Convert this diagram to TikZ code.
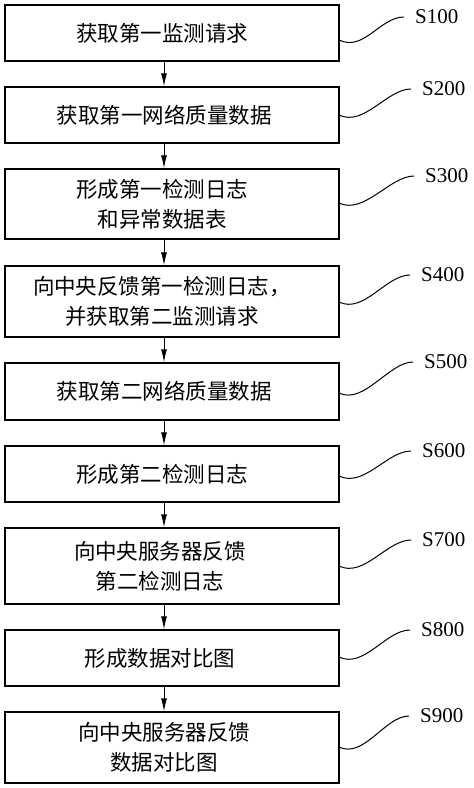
\documentclass[tikz,border=0pt]{standalone}
\usepackage{fontspec}
\setmainfont{Liberation Serif}
\newfontfamily\cjk{Noto Sans CJK SC}
\usetikzlibrary{arrows.meta}
\begin{document}
\begin{tikzpicture}[x=1pt,y=-1pt,
  box/.style={draw, line width=1.3pt, minimum width=334pt, inner sep=0pt},
  txt/.style={font=\cjk\fontsize{21.5}{30}\selectfont, align=center, inner sep=0pt},
  slabel/.style={font=\fontsize{21}{24}\selectfont, anchor=west, inner sep=0pt},
  flow/.style={line width=1pt, -{Latex[length=13pt,width=6pt]}},
  lead/.style={line width=1pt}]
\useasboundingbox (0,0) rectangle (474,788);
% boxes
\node[box, minimum height=56pt] (b1) at (172,33) {};
\node[box, minimum height=56pt] (b2) at (172,115) {};
\node[box, minimum height=70pt] (b3) at (172,204) {};
\node[box, minimum height=71pt] (b4) at (172,301.5) {};
\node[box, minimum height=57pt] (b5) at (172,391.5) {};
\node[box, minimum height=56pt] (b6) at (172,474) {};
\node[box, minimum height=76pt] (b7) at (172,566) {};
\node[box, minimum height=56pt] (b8) at (172,658) {};
\node[box, minimum height=71pt] (b9) at (172,747.5) {};
% texts
\node[txt] (t1) at ([xshift=-10pt]b1.center) {获取第一监测请求};
\node[txt] (t2) at ([xshift=-8pt]b2.center) {获取第一网络质量数据};
\node[txt] (t3) at ([xshift=-10pt]b3.center) {形成第一检测日志\\和异常数据表};
\node[txt] (t4) at ([xshift=-10pt]b4.center) {向中央反馈第一检测日志，\\并获取第二监测请求};
\node[txt] (t5) at ([xshift=-8pt]b5.center) {获取第二网络质量数据};
\node[txt] (t6) at ([xshift=-10pt]b6.center) {形成第二检测日志};
\node[txt] (t7) at ([xshift=-12pt]b7.center) {向中央服务器反馈\\第二检测日志};
\node[txt] (t8) at ([xshift=-12pt]b8.center) {形成数据对比图};
\node[txt] (t9) at ([xshift=-8pt]b9.center) {向中央服务器反馈\\数据对比图};
% arrows
\foreach \a/\b in {b1/b2,b2/b3,b3/b4,b4/b5,b5/b6,b6/b7,b7/b8,b8/b9}
  \draw[flow] ([xshift=-8pt]\a.south) -- ([xshift=-8pt]\b.north);
% step labels
\node[slabel] (s1) at (415,17) {S100};
\node[slabel] (s2) at (422,89) {S200};
\node[slabel] (s3) at (425,176) {S300};
\node[slabel] (s4) at (421,275) {S400};
\node[slabel] (s5) at (424,362) {S500};
\node[slabel] (s6) at (422,451) {S600};
\node[slabel] (s7) at (422,540) {S700};
\node[slabel] (s8) at (421,630) {S800};
\node[slabel] (s9) at (420,716) {S900};
% leader curves
\foreach \i/\y in {1/40,2/115,3/203,4/302,5/393,6/476,7/566,8/657,9/747}{
  \coordinate (c\i) at (339,\y);
  \draw[lead] (c\i) .. controls ([xshift=25pt,yshift=-12pt]c\i) and ([xshift=-35pt]s\i.west) .. ([xshift=-11pt]s\i.west);
}
\end{tikzpicture}
\end{document}
